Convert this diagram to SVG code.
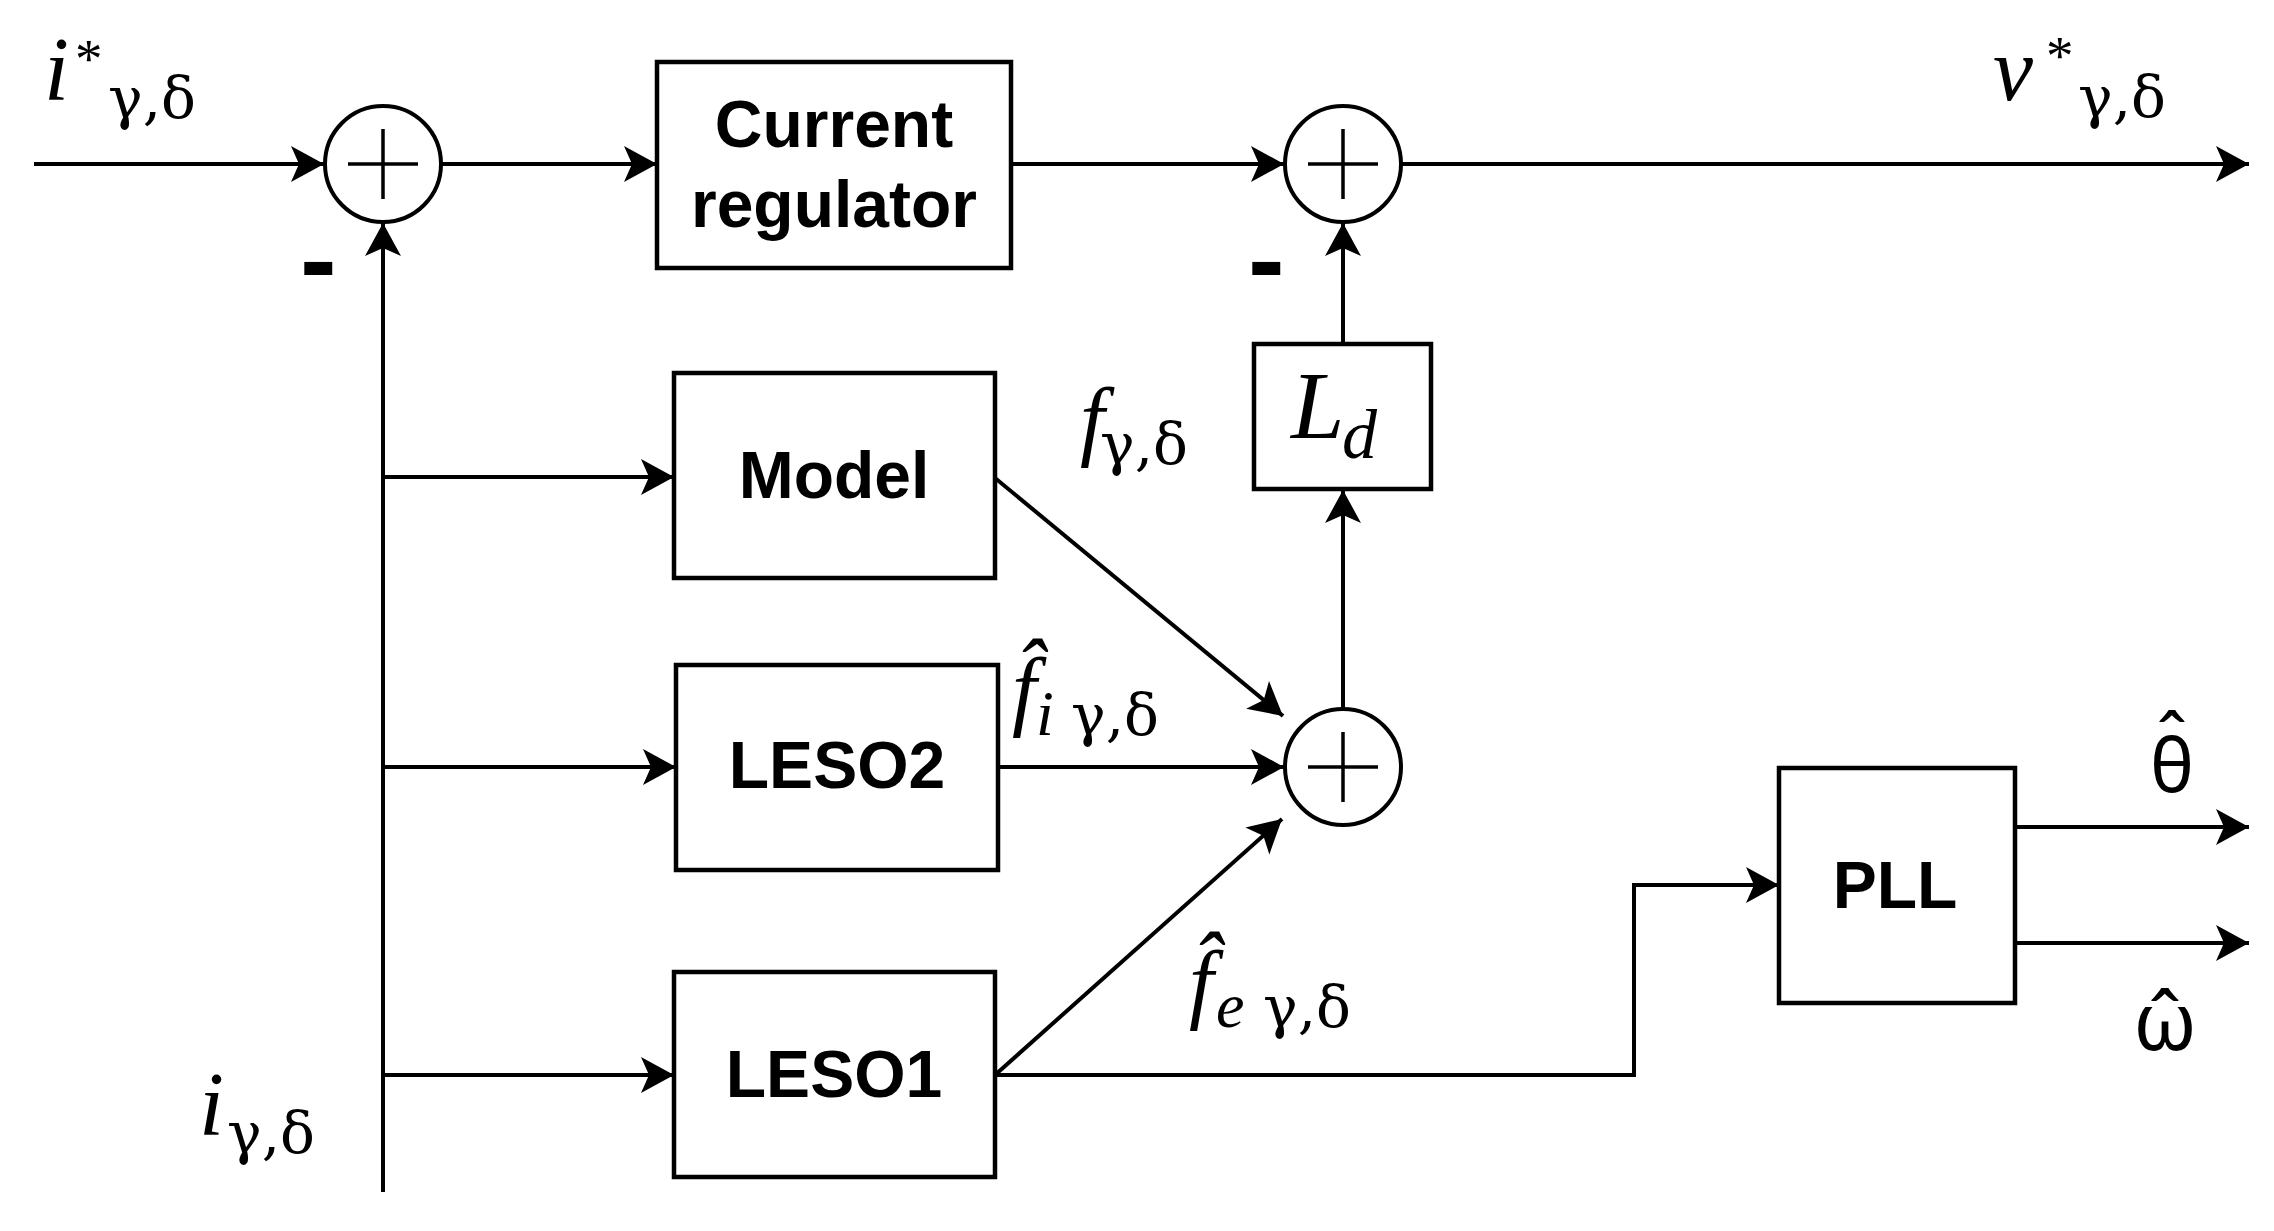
<svg xmlns="http://www.w3.org/2000/svg" width="2274" height="1231" viewBox="0 0 2274 1231">
<style>
.box{fill:#fff;stroke:#000;stroke-width:4.5}
.sum{fill:#fff;stroke:#000;stroke-width:4}
.plus{stroke:#000;stroke-width:3.5;fill:none}
.conn{fill:none;stroke:#000;stroke-width:4}
.lbl{font-family:"Liberation Sans",Arial,sans-serif;font-weight:bold;font-size:66px;text-anchor:middle;fill:#000}
.math{font-family:"Liberation Serif","Times New Roman",serif;fill:#000}
.it{font-style:italic}
.sub{font-family:"DejaVu Serif",serif;font-size:58px;font-style:normal}
.sup{font-size:55px;font-style:normal}
.grk{font-family:"Noto Sans","DejaVu Sans",sans-serif;fill:#000}
.minus{font-family:"Liberation Sans",Arial,sans-serif;font-weight:bold;font-size:110px;fill:#000}
</style>
<defs>
<marker id="ah" markerUnits="userSpaceOnUse" viewBox="-34 -19 36 38" refX="0" refY="0" markerWidth="36" markerHeight="38" orient="auto">
<path d="M0,0 L-33,-18 L-25,0 L-33,18 Z" fill="#000"/>
</marker>
</defs>
<rect width="2274" height="1231" fill="#fff"/>

<g id="connectors">
<path class="conn" d="M34,164 H324" marker-end="url(#ah)"/>
<path class="conn" d="M442,164 H657" marker-end="url(#ah)"/>
<path class="conn" d="M1011,164 H1284" marker-end="url(#ah)"/>
<path class="conn" d="M1402,164 H2249" marker-end="url(#ah)"/>
<path class="conn" d="M383,1192 V223" marker-end="url(#ah)"/>
<path class="conn" d="M383,477 H674" marker-end="url(#ah)"/>
<path class="conn" d="M383,767 H676" marker-end="url(#ah)"/>
<path class="conn" d="M383,1075 H674" marker-end="url(#ah)"/>
<path class="conn" d="M995,478 L1283,716" marker-end="url(#ah)"/>
<path class="conn" d="M998,767 H1284" marker-end="url(#ah)"/>
<path class="conn" d="M995,1075 L1282,819" marker-end="url(#ah)"/>
<path class="conn" d="M1343,708 V490" marker-end="url(#ah)"/>
<path class="conn" d="M1343,344 V223" marker-end="url(#ah)"/>
<path class="conn" d="M995,1075 H1634 V885 H1779" marker-end="url(#ah)"/>
<path class="conn" d="M2015,827 H2249" marker-end="url(#ah)"/>
<path class="conn" d="M2015,943 H2249" marker-end="url(#ah)"/>
</g>

<g id="sum1">
<circle class="sum" cx="383" cy="164" r="58"/>
<path class="plus" d="M348,164 H418 M383,129 V199"/>
</g>
<g id="sum2">
<circle class="sum" cx="1343" cy="164" r="58"/>
<path class="plus" d="M1308,164 H1378 M1343,129 V199"/>
</g>
<g id="sum3">
<circle class="sum" cx="1343" cy="767" r="58"/>
<path class="plus" d="M1308,767 H1378 M1343,732 V802"/>
</g>

<g id="current-regulator">
<rect class="box" x="657" y="62" width="354" height="206"/>
<text class="lbl" x="834" y="147">Current</text>
<text class="lbl" x="834" y="227">regulator</text>
</g>
<g id="model">
<rect class="box" x="674" y="373" width="321" height="205"/>
<text class="lbl" x="834" y="498">Model</text>
</g>
<g id="leso2">
<rect class="box" x="676" y="665" width="322" height="205"/>
<text class="lbl" x="837" y="788">LESO2</text>
</g>
<g id="leso1">
<rect class="box" x="674" y="972" width="321" height="205"/>
<text class="lbl" x="834" y="1097">LESO1</text>
</g>
<g id="ld">
<rect class="box" x="1254" y="344" width="177" height="145"/>
<text class="math it"><tspan x="1291" y="438" font-size="96">L</tspan><tspan x="1342" y="458" font-size="70">d</tspan></text>
</g>
<g id="pll">
<rect class="box" x="1779" y="768" width="236" height="235"/>
<text class="lbl" x="1895" y="908">PLL</text>
</g>

<g id="labels">
<text class="math it" font-size="90"><tspan x="44" y="100">i</tspan><tspan class="sup" x="75" y="77">*</tspan><tspan class="sub" x="108" y="118">γ,δ</tspan></text>
<text class="math it" font-size="90"><tspan x="1993" y="100">v</tspan><tspan class="sup" x="2046" y="74">*</tspan><tspan class="sub" x="2078" y="117">γ,δ</tspan></text>
<text class="math it" font-size="88"><tspan x="1080" y="449">f</tspan><tspan class="sub" x="1100" y="464">γ,δ</tspan></text>
<text class="math it" font-size="88"><tspan x="1012" y="719">f̂</tspan><tspan font-size="64" x="1036" y="735">i</tspan><tspan class="sub" x="1071" y="735">γ,δ</tspan></text>
<text class="math it" font-size="88"><tspan x="1189" y="1012">f̂</tspan><tspan font-size="64" x="1216" y="1027">e</tspan><tspan class="sub" x="1263" y="1027">γ,δ</tspan></text>
<text class="math it" font-size="90"><tspan x="199" y="1135">i</tspan><tspan class="sub" x="227" y="1153">γ,δ</tspan></text>
<text class="grk" font-size="74"><tspan x="2150" y="792">θ</tspan><tspan x="2172" y="768" text-anchor="middle">ˆ</tspan></text>
<text class="grk" font-size="80" x="2133" y="1050">ω̂</text>
<text class="minus" x="300" y="297">-</text>
<text class="minus" x="1248" y="297">-</text>
</g>
</svg>
